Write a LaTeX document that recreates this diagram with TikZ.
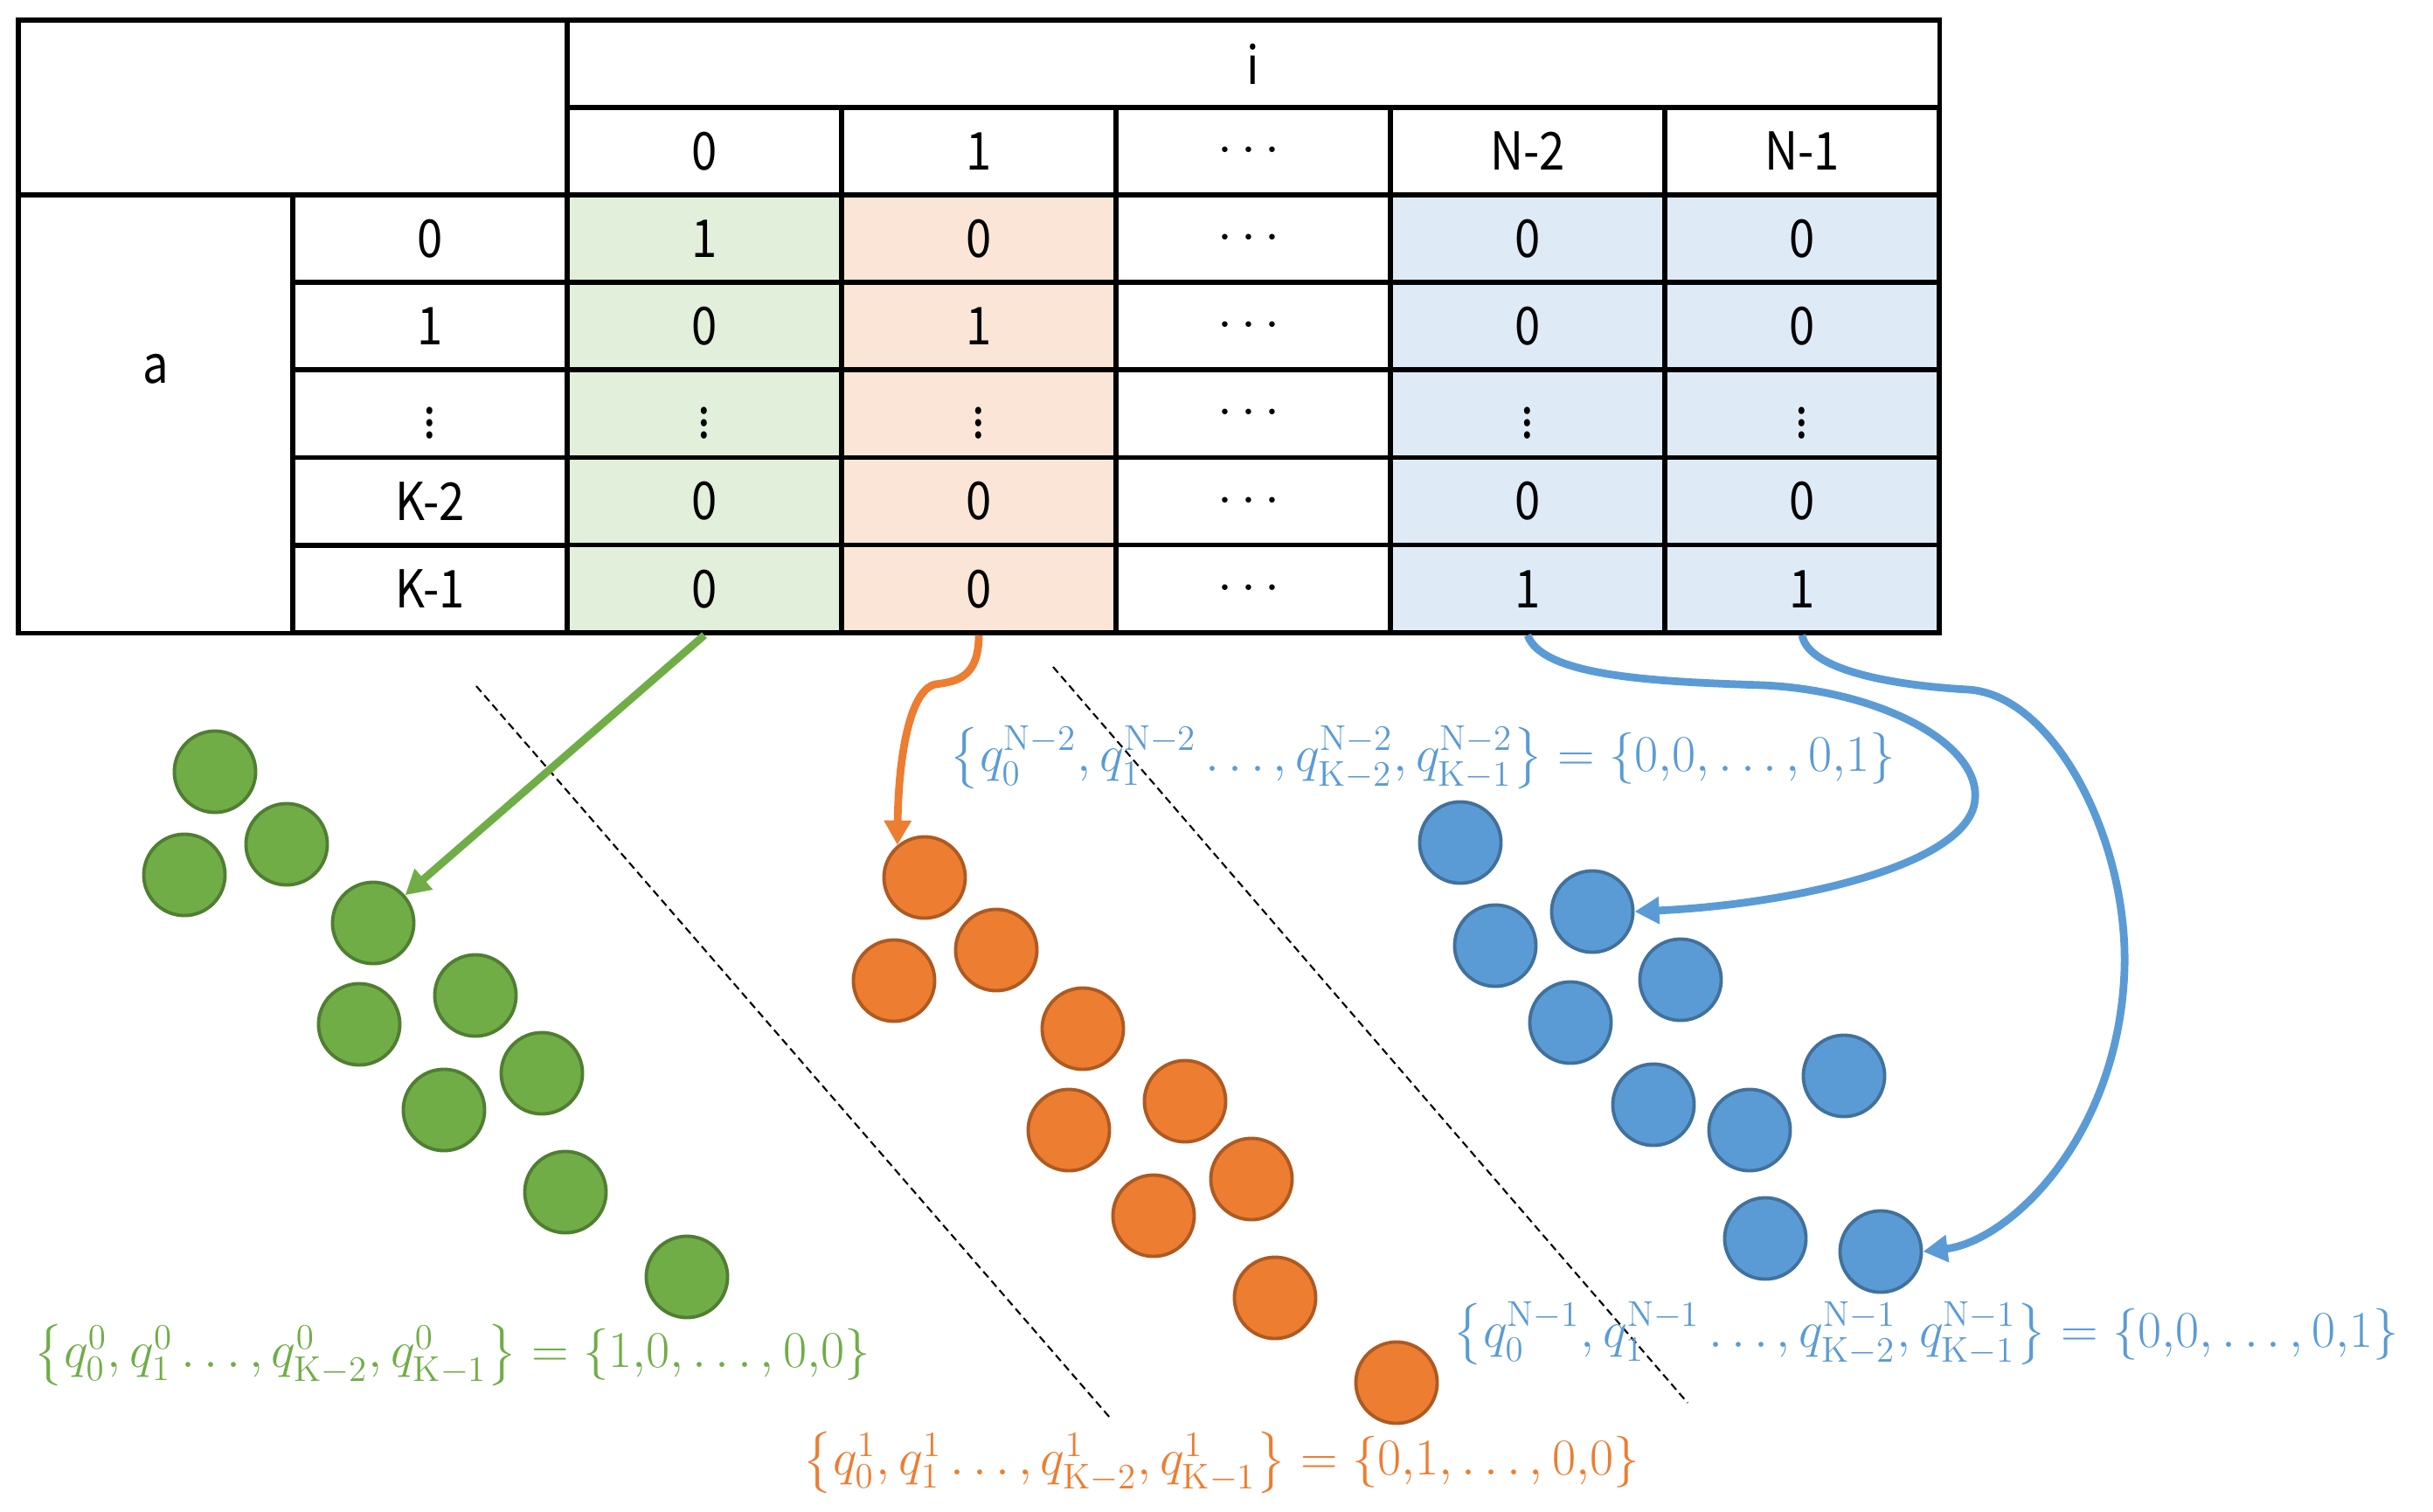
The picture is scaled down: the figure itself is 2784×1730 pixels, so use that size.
\documentclass[tikz,border=0pt]{standalone}
\usepackage{amsmath}
\usepackage{graphicx}
\usepackage{fontspec}
\usetikzlibrary{arrows.meta}
\newfontfamily\jpfont[FakeStretch=0.88]{Noto Sans CJK JP}
\newcommand{\setlab}[1]{\scalebox{0.97}{$#1$}}
\definecolor{grn}{HTML}{70AD47}
\definecolor{grndk}{HTML}{507E32}
\definecolor{grnlt}{HTML}{E2EFDA}
\definecolor{org}{HTML}{ED7D31}
\definecolor{orgdk}{HTML}{AE5A21}
\definecolor{orglt}{HTML}{FBE5D6}
\definecolor{blu}{HTML}{5B9BD5}
\definecolor{bludk}{HTML}{41719C}
\definecolor{blult}{HTML}{DEEBF7}

\begin{document}
\begin{tikzpicture}[x=0.01cm,y=-0.01cm]
                \tikzstyle{cell}=[draw=black,line width=1.6pt,minimum width=3.14cm,minimum height=1.002cm,inner sep=0pt,font=\jpfont\fontsize{17}{17}\selectfont]
                \tikzstyle{ball}=[circle,line width=1.1pt,minimum size=0.93cm,inner sep=0pt]
                \tikzstyle{link}=[line width=2.5pt,-{Triangle[length=8pt,width=8.5pt]}]
                \tikzstyle{seq}=[anchor=west,inner sep=0pt,font=\LARGE]
                \useasboundingbox (0,0) rectangle (2784,1730);

                % table head
                \node[cell,minimum width=6.28cm,minimum height=2.004cm] (corner) at (335,123) {};
                \node[cell,minimum width=15.70cm] (head-i) at (1434,73) {i};
                \node[cell,minimum height=5.01cm] (head-a) at (178,474) {};
                \node[font=\jpfont\fontsize{17}{17}\selectfont,inner sep=0pt] (text-a) at (178,422) {a};
                \foreach \num/\txt in {0/0, 1/1, 2/$\cdots$, 3/N-2, 4/N-1}
                        \node[cell] (col-\num) at (806+314*\num,173) {\txt};
                \foreach \num/\txt in {0/0, 1/1, 2/$\vdots$, 3/K-2, 4/K-1}
                        \node[cell] (row-\num) at (492,273+100.2*\num) {\txt};

                % table body
                \foreach \col/\fil/\vals in {0/grnlt/{1,0,$\vdots$,0,0}, 1/orglt/{0,1,$\vdots$,0,0}, 2/white/{$\cdots$,$\cdots$,$\cdots$,$\cdots$,$\cdots$}, 3/blult/{0,0,$\vdots$,0,1}, 4/blult/{0,0,$\vdots$,0,1}}
                    \foreach \v [count=\row from 0] in \vals
                        \node[cell,fill=\fil] (d-\row-\col) at (806+314*\col,273+100.2*\row) {\v};

                % balls
                \foreach \num/\x/\y in {1/246/883, 2/328/966, 3/211/1001, 4/427/1056, 5/544/1139, 6/411/1172, 7/620/1228, 8/508/1270, 9/647/1364, 10/786/1461}{
                        \node[ball,fill=grn,draw=grndk] (g-\num) at (\x,\y) {};
                        \node[ball,fill=org,draw=orgdk] (o-\num) at (\x+812,\y+121) {};
                }
                \foreach \num/\x/\y in {1/1671/964, 2/1822/1043, 3/1711/1082, 4/1923/1121, 5/1797/1170, 6/2110/1231, 7/1892/1264, 8/2002/1293, 9/2020/1417, 10/2152/1432}
                        \node[ball,fill=blu,draw=bludk] (b-\num) at (\x,\y) {};

                % separators
                \coordinate (cut-1a) at (545,785);
                \coordinate (cut-1b) at (1270,1622);
                \coordinate (cut-2a) at (1205,763);
                \coordinate (cut-2b) at (1931,1605);
                \draw[dashed,line width=0.6pt,dash pattern=on 2.5pt off 1.5pt] (cut-1a) -- (cut-1b);
                \draw[dashed,line width=0.6pt,dash pattern=on 2.5pt off 1.5pt] (cut-2a) -- (cut-2b);

                % arrows
                \draw[link,grn] (d-4-0.south) -- (g-4);
                \draw[link,org] (d-4-1.south) .. controls (1120,775) and (1095,780) .. (1070,783)
                        .. controls (1040,790) and (1028,870) .. (o-1.130);
                \draw[link,blu] (d-4-3.south) .. controls (1765,775) and (1900,780) .. (2017,784)
                        .. controls (2150,790) and (2265,850) .. (2260,914)
                        .. controls (2255,990) and (2050,1035) .. (b-2.east);
                \draw[link,blu] (d-4-4.south) .. controls (2070,770) and (2180,785) .. (2252,789)
                        .. controls (2350,795) and (2435,960) .. (2431,1108)
                        .. controls (2425,1300) and (2300,1420) .. (b-10.east);

                % labels
                \node[seq,text=grn] (lab-0) at (38,1550) {\setlab{\left\{q_0^0, q_1^0 \ldots, q_{\mathrm{K-2}}^0, q_{\mathrm{K-1}}^0\right\} = \{1{,}0, \ldots, 0{,}0\}}};
                \node[seq,text=org] (lab-1) at (918,1673) {\setlab{\left\{q_0^1, q_1^1 \ldots, q_{\mathrm{K-2}}^1, q_{\mathrm{K-1}}^1\right\} = \{0{,}1, \ldots, 0{,}0\}}};
                \node[seq,text=blu] (lab-n2) at (1086,867) {\setlab{\left\{q_0^{\mathrm{N-2}}, q_1^{\mathrm{N-2}} \ldots, q_{\mathrm{K-2}}^{\mathrm{N-2}}, q_{\mathrm{K-1}}^{\mathrm{N-2}}\right\} = \{0{,}0, \ldots, 0{,}1\}}};
                \node[seq,text=blu] (lab-n1) at (1662,1526) {\setlab{\left\{q_0^{\mathrm{N-1}}, q_1^{\mathrm{N-1}} \ldots, q_{\mathrm{K-2}}^{\mathrm{N-1}}, q_{\mathrm{K-1}}^{\mathrm{N-1}}\right\} = \{0{,}0, \ldots, 0{,}1\}}};
\end{tikzpicture}
\end{document}
